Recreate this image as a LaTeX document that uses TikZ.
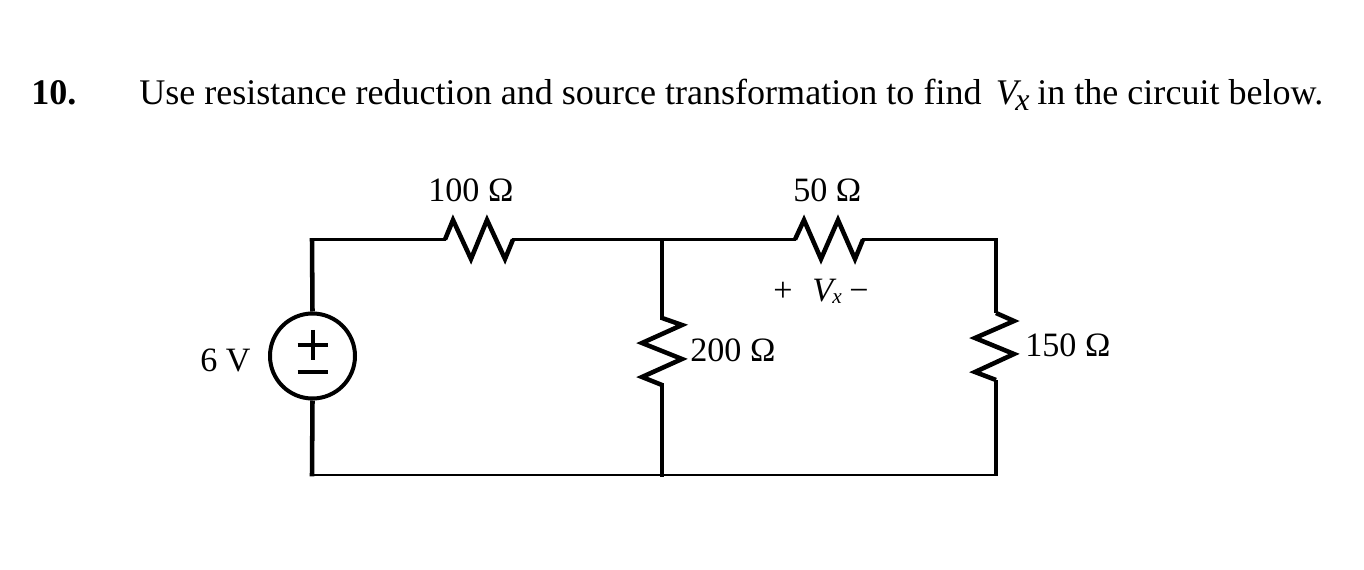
\documentclass[tikz,border=0pt]{standalone}
\usepackage{fontspec}
\setmainfont{Liberation Serif}
\usetikzlibrary{positioning}
\newcommand{\Vtext}{\kern4pt\textit{V}\kern-4.5pt\raisebox{-4pt}{\fontsize{24}{30}\selectfont\textit{x}}\kern-1pt}
\newcommand{\Vlabel}{\textit{V}\kern-3pt\raisebox{-1.5pt}{\fontsize{16}{20}\selectfont\textit{x}}}
\tikzset{
  wire/.style={line width=2pt, line cap=rect},
  wirethick/.style={line width=3.4pt, line cap=butt, shorten >=-1pt},
  signbar/.style={line width=3pt, line cap=butt},
  zigzag/.style={line width=3.4pt, line join=miter},
  lbl/.style={anchor=base west, inner sep=0pt, font=\fontsize{25.6}{30}\selectfont},
}
\begin{document}
\begin{tikzpicture}[x=0.75pt, y=-0.75pt]
    \useasboundingbox (0,0) rectangle (1364,570);
    \coordinate (TL) at (312,239.5);
    \coordinate (BL) at (312,475);
    \coordinate (TM) at (662,239.5);
    \coordinate (BM) at (662,475);
    \coordinate (TR) at (996,239.5);
    \coordinate (BR) at (996,475);
    \coordinate (R1a) at (445,239.5);
    \coordinate (R1b) at (513,239.5);
    \coordinate (R2a) at (795,239.5);
    \coordinate (R2b) at (863,239.5);
    \coordinate (R3a) at (662,318);
    \coordinate (R3b) at (662,385);
    \coordinate (R4a) at (996,313);
    \coordinate (R4b) at (996,380);
    % text
    \node[lbl, font=\fontsize{27.05}{30}\selectfont\bfseries] (num) at (31,105) {10.};
    \node[lbl, font=\fontsize{27.05}{30}\selectfont] (prob) at (139,105) {Use resistance reduction and source transformation to find \Vtext{} in the circuit below.};
    \node[lbl] (l100) at (428,202) {100 Ω};
    \node[lbl] (l50) at (793,202) {50 Ω};
    \node[lbl] (l200) at (690,362) {200 Ω};
    \node[lbl] (l150) at (1025,357) {150 Ω};
    \node[lbl] (l6) at (200,371) {6 V};
    \node[lbl] (lp) at (773,302) {+};
    \node[lbl] (lvx) at (812,302) {\Vlabel};
    \node[lbl] (lm) at (849,302) {−};
    % source
    \node[circle, draw, line width=3pt, minimum size=63.75pt, inner sep=0pt] (Vs) at (312.5,356) {};
    \draw[signbar] (Vs.center) ++(-15,-11) -- ++(30,0);
    \draw[signbar] (Vs.center) ++(0,-26) -- ++(0,30);
    \draw[signbar] (Vs.center) ++(-15,16) -- ++(30,0);
    % wires
    \draw[wirethick] (Vs.north) -- (TL);
    \draw[wirethick] (Vs.south) -- (BL);
    \draw[wire] (TL) -- (R1a);
    \draw[wire] (R1b) -- (TM) -- (R2a);
    \draw[wire] (R2b) -- (TR);
    \draw[wire] (BL) -- (BM) -- (BR);
    \draw[wire, line width=2.3pt] (TM) -- (R3a);
    \draw[wire, line width=2.3pt] (R3b) -- (BM);
    \draw[wirethick] (R4a) -- (TR);
    \draw[wirethick] (R4b) -- (BR);
    % resistors
    \draw[zigzag] (R1a) -- (453,220) -- (471,259) -- (487,220) -- (505,259) -- (R1b);
    \draw[zigzag] (R2a) -- (804,220) -- (821,259) -- (838,220) -- (855,259) -- (R2b);
    \draw[zigzag] (R3a) -- (682,325) -- (642,343) -- (682,359) -- (642,377) -- (R3b);
    \draw[zigzag] (R4a) -- (1014,321) -- (975,338) -- (1014,354) -- (975,372) -- (R4b);
  \end{tikzpicture}
\end{document}
